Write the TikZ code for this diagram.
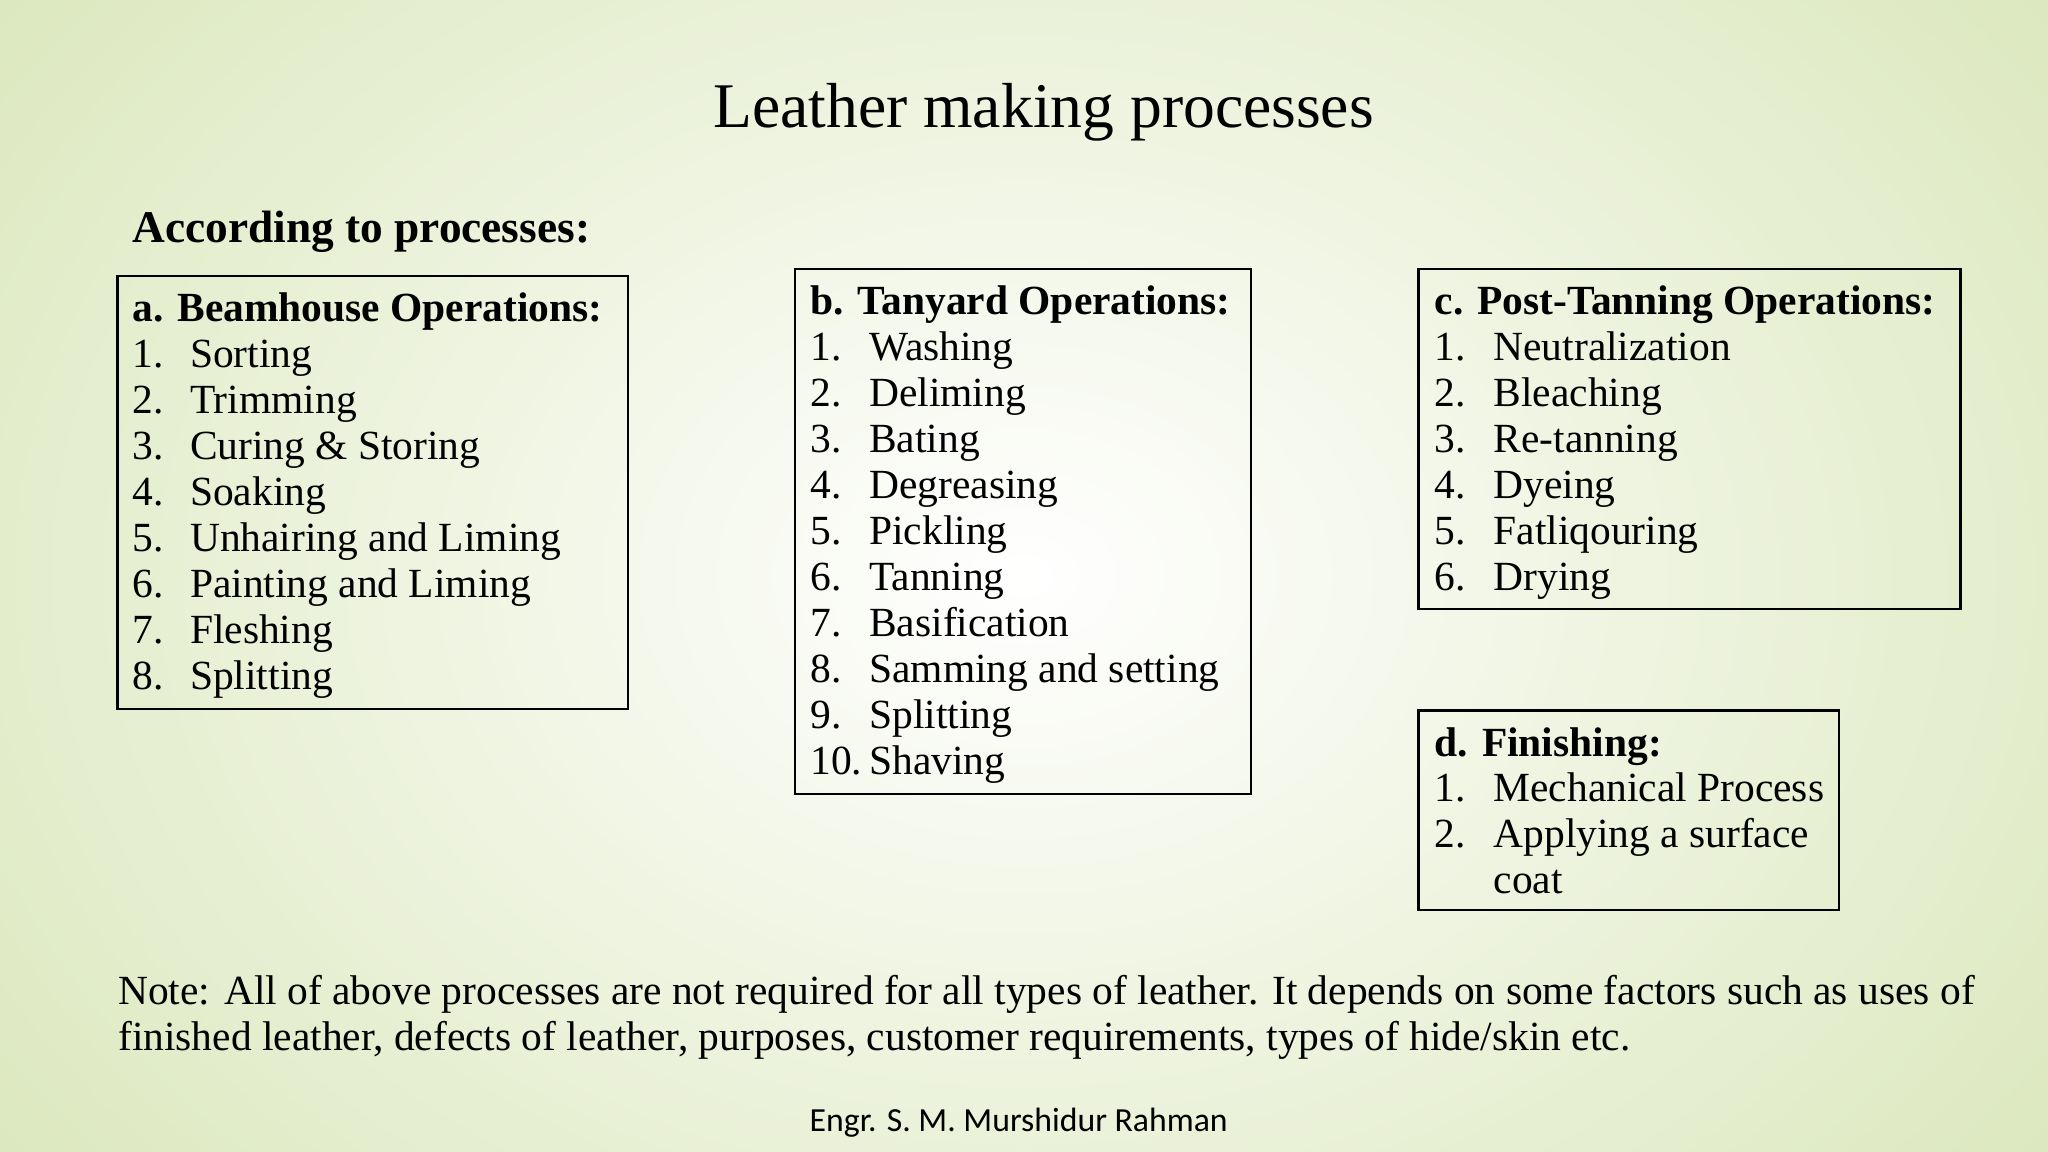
\documentclass[tikz,border=0pt]{standalone}
\usepackage{fontspec}
\setmainfont{Liberation Serif}
\newfontfamily\footfont{Carlito}
\definecolor{bgg}{HTML}{DCE8BE}
\tikzset{
  itm/.style={anchor=base west,inner sep=0pt,font=\fontsize{11.8}{14}\selectfont},
  hd/.style={itm,font=\fontsize{11.8}{14}\selectfont\bfseries},
  bx/.style={draw=black,line width=0.6pt}
}
\begin{document}
\begin{tikzpicture}[x=0.01306cm,y=-0.01306cm]
\useasboundingbox (0,0) rectangle (1568,882);
\shade[inner color=white,outer color=bgg] (-200,-300) rectangle (1768,1182);
\node[anchor=base,inner sep=0pt,font=\fontsize{18.1}{20}\selectfont] (title) at (799,98) {Leather making processes};
\node[hd,font=\fontsize{12.9}{15}\selectfont\bfseries] (acc) at (101,186) {According to processes:};
\draw[bx] (90,211) rectangle (481,543);
\draw[bx] (609,206) rectangle (958,608);
\draw[bx] (1086,206) rectangle (1501,466);
\draw[bx] (1086,544) rectangle (1408,697);
\node[hd] (ha) at (101,246) {a. Beamhouse Operations:};
\node[hd] (hb) at (620,241) {b. Tanyard Operations:};
\node[hd] (hc) at (1098,241) {c. Post-Tanning Operations:};
\node[hd] (hd) at (1098,579) {d. Finishing:};
\foreach \t [count=\i] in {Sorting,Trimming,Curing \& Storing,Soaking,Unhairing and Liming,Painting and Liming,Fleshing,Splitting}
  {\node[itm] (a\i) at (101,246+35.2*\i) {\i.}; \node[itm] (at\i) at (145,246+35.2*\i) {\t};}
\foreach \t [count=\i] in {Washing,Deliming,Bating,Degreasing,Pickling,Tanning,Basification,Samming and setting,Splitting,Shaving}
  {\node[itm] (b\i) at (620,241+35.2*\i) {\i.}; \node[itm] (bt\i) at (665,241+35.2*\i) {\t};}
\foreach \t [count=\i] in {Neutralization,Bleaching,Re-tanning,Dyeing,Fatliqouring,Drying}
  {\node[itm] (c\i) at (1098,241+35.2*\i) {\i.}; \node[itm] (ct\i) at (1143,241+35.2*\i) {\t};}
\node[itm] (d1) at (1098,614) {1.}; \node[itm] (dt1) at (1143,614) {Mechanical Process};
\node[itm] (d2) at (1098,649) {2.}; \node[itm] (dt2) at (1143,649) {Applying a surface};
\node[itm] (dt3) at (1143,684) {coat};
\node[itm] (n1) at (90,769) {Note: All of above processes are not required for all types of leather. It depends on some factors such as uses of};
\node[itm] (n2) at (90,804) {finished leather, defects of leather, purposes, customer requirements, types of hide/skin etc.};
\node[anchor=base,inner sep=0pt,font=\footfont\fontsize{9.6}{11}\selectfont] (foot) at (780,866) {Engr. S. M. Murshidur Rahman};
\end{tikzpicture}
\end{document}
